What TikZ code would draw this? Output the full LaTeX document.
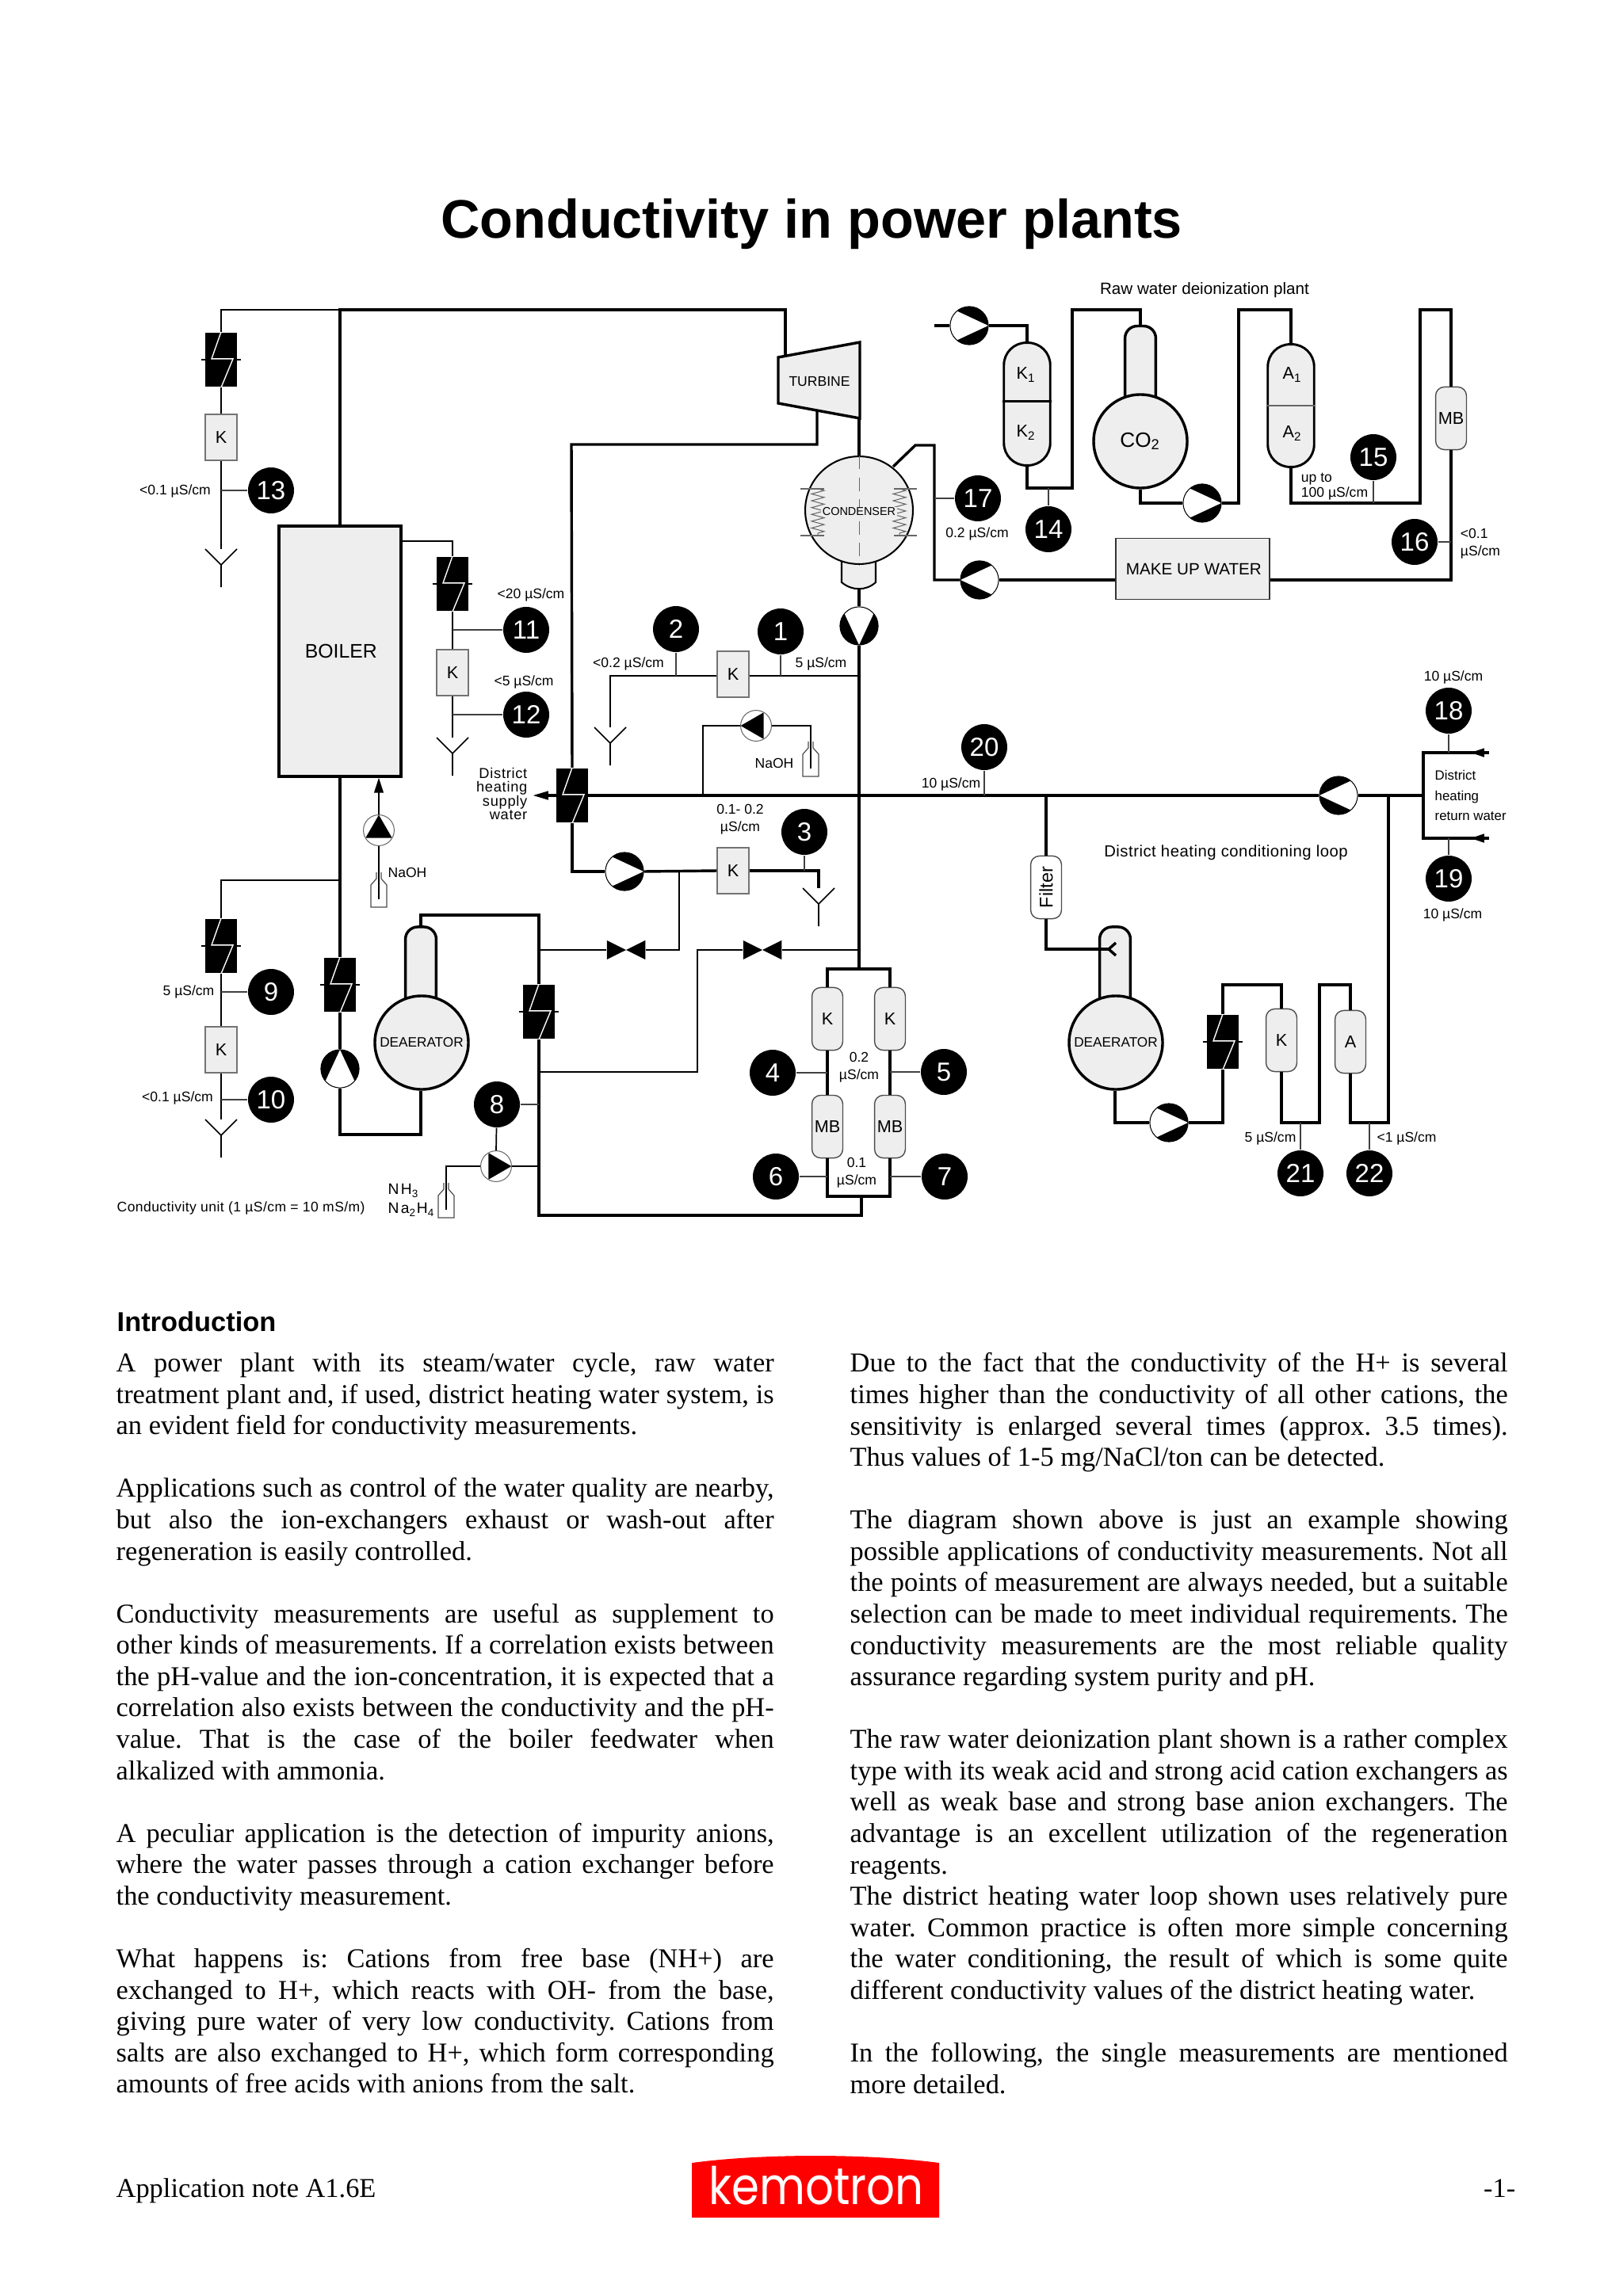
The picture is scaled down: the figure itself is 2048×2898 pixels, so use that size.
\documentclass[tikz,border=0pt]{standalone}
\usepackage{fontspec}
\setmainfont{Liberation Serif}
\setsansfont{Liberation Sans}
\newfontfamily\logofont{Poppins}
\usepackage{graphicx}
\usepackage{xcolor}
\usepackage{tikz}
\usetikzlibrary{arrows.meta,decorations.pathmorphing}
\definecolor{tankgray}{HTML}{EEEEEE}
\definecolor{logored}{HTML}{FF0000}
\newcommand{\hxunit}[2]{%
  \node[hx] (#1) at (#2) {};
  \draw[subpipe] ([xshift=-1.4pt]#1.west) -- ([xshift=1.4pt]#1.east);
  \draw[hxbolt] (#1.north) -- ++(-12,34) -- ++(27,0) -- (#1.south);}
\newcommand{\drainfork}[2]{%
  \coordinate (#1) at (#2);
  \draw[subpipe] ([shift={(-20,0)}]#1) -- ([shift={(0,20)}]#1) -- ([shift={(20,0)}]#1)
    ([shift={(0,20)}]#1) -- ([shift={(0,48)}]#1);}
\newcommand{\dosebottle}[2]{%
  \coordinate (#1) at (#2);
  \draw[bottle] ([shift={(-3,-34)}]#1) -- ([shift={(-3,-26)}]#1) -- ([shift={(-10,-18)}]#1)
    -- ([shift={(-10,10)}]#1) -- ([shift={(10,10)}]#1) -- ([shift={(10,-18)}]#1)
    -- ([shift={(3,-26)}]#1) -- ([shift={(3,-34)}]#1);}
\begin{document}
\begin{tikzpicture}[
    x=0.2906pt, y=-0.2906pt,
    mainpipe/.style={line width=1pt, draw=black},
    subpipe/.style={line width=.5pt, draw=black},
    probe/.style={line width=.4pt, draw=black!75},
    hxbolt/.style={line width=.4pt, draw=white},
    bottle/.style={line width=.35pt, draw=black!70},
    coil/.style={decorate, decoration={zigzag, segment length=2.5pt, amplitude=2.3pt},
      line width=.3pt, draw=black!60},
    hair/.style={line width=.3pt, draw=black!60},
    badge/.style={circle, fill=black, text=white, inner sep=0, minimum size=16.85pt,
      font=\sffamily\fontsize{9.6}{10}\selectfont},
    lbl/.style={inner sep=0, align=center, yshift=-.4pt, font=\sffamily\fontsize{5.1}{6.3}\selectfont},
    wide/.style={inner sep=0, font=\sffamily\fontsize{5.4}{5.1}\selectfont\addfontfeature{LetterSpace=5}},
    unitlbl/.style={inner sep=0, align=center, font=\sffamily\fontsize{6.3}{7}\selectfont},
    bigunit/.style={unitlbl, draw=black, fill=tankgray, line width=1pt},
    kbox/.style={unitlbl, draw=black!55, fill=tankgray, line width=.45pt,
      minimum width=11.6pt, minimum height=16.85pt},
    resin/.style={unitlbl, draw=black!70, fill=tankgray, line width=.4pt,
      minimum width=11.3pt, minimum height=23pt, rounded corners=3.2pt},
    column/.style={unitlbl, draw=black, fill=tankgray, line width=.85pt,
      minimum width=17pt, minimum height=45pt, rounded corners=8.2pt},
    stack/.style={draw=black, fill=tankgray, line width=1pt,
      minimum width=11.3pt, minimum height=32pt, rounded corners=4.5pt},
    drum/.style={circle, bigunit, minimum size=34.3pt},
    hx/.style={fill=black, inner sep=0, minimum width=11.5pt, minimum height=20pt},
    valve/.style={inner sep=0, minimum width=14.1pt, minimum height=7pt,
      path picture={\fill[black] (path picture bounding box.north west)
        -- (path picture bounding box.south east) -- (path picture bounding box.north east)
        -- (path picture bounding box.south west) -- cycle;}},
    pumpbig/.style={circle, fill=black, draw=black, line width=.3pt, inner sep=0, minimum size=14pt,
      path picture={\fill[white, shift={(path picture bounding box.center)}]
        (#1:24) -- ++(#1+155:90) -- ++(#1+270:76) -- cycle;}},
    pumpsmall/.style={circle, fill=white, draw=black!60, line width=.3pt, inner sep=0, minimum size=11.3pt,
      path picture={\fill[black, shift={(path picture bounding box.center)}]
        (#1:19.4) -- (#1+120:19.4) -- (#1+240:19.4) -- cycle;}},
    bodytext/.style={inner sep=0, anchor=north west, text width=241.2pt, align=justify,
      font=\fontsize{10}{11.5}\selectfont\frenchspacing}
  ]
    \useasboundingbox (0,0) rectangle (2048,2898);

    \node[font=\sffamily\bfseries\fontsize{19.9}{24}\selectfont, inner sep=0] (title) at (1024,283) {Conductivity in power plants};

    \foreach \num/\pos in {1/{985,797}, 2/{853,794}, 3/{1015,1050}, 4/{975,1354}, 5/{1191,1353},
      6/{979,1485}, 7/{1192,1485}, 8/{627,1394}, 9/{342,1252}, 10/{342,1388}, 11/{664,795},
      12/{664,902}, 13/{342,619}, 14/{1323,668}, 15/{1733,577}, 16/{1785,684}, 17/{1234,629},
      18/{1828,897}, 19/{1828,1109}, 20/{1242,943}, 21/{1641,1481}, 22/{1728,1481}}
      \node[badge] (b\num) at (\pos) {\num};

    \node[bigunit, minimum width=44.8pt, minimum height=91.8pt, font=\sffamily\fontsize{7.2}{8}\selectfont] (boiler) at (429,822) {\hspace*{.8pt}BOILER};
    \draw[bigunit] (982,451) -- (1085,432) -- (1085,528) -- (982,509) -- cycle;
    \node[lbl] (turbine) at (1034,480) {TURBINE};
    \draw[line width=.6pt, draw=black, fill=tankgray] (1062,700) -- (1062,735) .. controls (1075,746) and (1093,746) .. (1105,735) -- (1105,700) -- cycle;
    \node[circle, draw=black, fill=tankgray, line width=.6pt, inner sep=0, minimum size=39.5pt] (condenser) at (1084,644) {};
    \draw[hair, dashed, dash pattern=on 5pt off 3pt] (condenser.north) -- (condenser.south);
    \draw[coil] (1032,617) -- (1032,676);
    \draw[coil] (1135,617) -- (1135,676);
    \draw[hair] (1010,617) -- (1040,617) (1010,676) -- (1040,676) (1128,617) -- (1157,617) (1128,676) -- (1157,676);
    \node[inner sep=.4pt, font=\sffamily\fontsize{4.2}{5}\selectfont, fill=tankgray] (condlbl) at (1084,646) {CONDENSER};

    \node[stack] (deaer1stem) at (531,1225) {};
    \node[drum, font=\sffamily\fontsize{5}{6}\selectfont] (deaer1) at (532,1316) {DEAERATOR};
    \node[stack, minimum height=34pt] (co2stem) at (1439,470) {};
    \node[drum, font=\sffamily\fontsize{7.6}{9}\selectfont] (co2) at (1439,557) {CO\textsubscript{2}};
    \node[stack] (deaer2stem) at (1407,1225) {};
    \node[drum, font=\sffamily\fontsize{5}{6}\selectfont] (deaer2) at (1408,1316) {DEAERATOR};

    \node[kbox] (k13) at (279,552) {K};
    \node[kbox] (k11) at (571,849) {K};
    \node[kbox] (k9) at (279,1325) {K};
    \node[kbox] (k1) at (925,851) {K};
    \node[kbox] (k3) at (925,1099) {K};
    \node[resin, minimum height=23pt] (k4) at (1044,1286) {K};
    \node[resin] (k5) at (1123,1286) {K};
    \node[resin] (mb4) at (1044,1422) {MB};
    \node[resin] (mb5) at (1123,1422) {MB};
    \node[resin] (kloop) at (1617,1313) {K};
    \node[resin] (aloop) at (1704,1315) {A};
    \node[resin, fill=white, rotate=90, minimum width=23pt, minimum height=11.3pt, font=\sffamily\fontsize{6.8}{8}\selectfont] (filter) at (1320,1120) {Filter};
    \node[column] (kraw) at (1296,510) {};
    \node[column] (araw) at (1629,512) {};
    \node[resin] (mbraw) at (1831,528) {MB};
    \node[unitlbl, draw=black!80, fill=tankgray, line width=.5pt, minimum width=56.4pt, minimum height=22.4pt, font=\sffamily\fontsize{6}{7}\selectfont] (makeup) at (1505,718) {\hspace*{.8pt}MAKE UP WATER};

    \draw[mainpipe] ([yshift=1pt]kraw.west) -- ([yshift=1pt]kraw.east);
    \draw[hair] (araw.west) -- (araw.east);
    \node[unitlbl] (kone) at (1295,473) {K\textsubscript{1}};
    \node[unitlbl] (ktwo) at (1295,546) {K\textsubscript{2}};
    \node[unitlbl] (aone) at (1631,473) {A\textsubscript{1}};
    \node[unitlbl] (atwo) at (1631,547) {A\textsubscript{2}};

    \hxunit{c13}{279,454}
    \hxunit{c11}{571,737}
    \hxunit{c9}{279,1194}
    \hxunit{cfeed}{429,1243}
    \hxunit{c8}{680,1277}
    \hxunit{cdh}{722,1004}
    \hxunit{cloop}{1543,1315}

    \node[pumpbig=-90] (feedpump) at (429,1349) {};
    \node[pumpbig=90] (condpump) at (1084,790) {};
    \node[pumpbig=0] (dhpump) at (788,1100) {};
    \node[pumpbig=180] (retpump) at (1689,1004) {};
    \node[pumpbig=0] (loopump) at (1475,1417) {};
    \node[pumpbig=0] (rawpump) at (1223,411) {};
    \node[pumpbig=0] (co2pump) at (1517,635) {};
    \node[pumpbig=180] (mkpump) at (1236,732) {};
    \node[pumpsmall=-90] (naohpump) at (478,1048) {};
    \node[pumpsmall=180] (naohtwo) at (954,916) {};
    \node[pumpsmall=0] (nhpump) at (626,1472) {};
    \node[valve] (valveA) at (790,1199) {};
    \node[valve] (valveB) at (962,1199) {};

    \drainfork{d13}{279,693}
    \drainfork{d11}{571,931}
    \drainfork{d9}{279,1413}
    \drainfork{d1}{770,918}
    \drainfork{d3}{1033,1121}
    \dosebottle{naohA}{478,1135}
    \dosebottle{naohB}{1023,970}
    \dosebottle{nhtank}{563,1527}

    \coordinate (steamtop) at (429,391);
    \coordinate (turbinein) at (991,449);
    \coordinate (turbineout) at (1031,519);
    \coordinate (turbinebend) at (721,561);
    \coordinate (turbineend) at (1084,528);
    \coordinate (tap11) at (507,683);
    \coordinate (tap9) at (429,1111);
    \coordinate (feedlow) at (531,1432);
    \coordinate (dtop) at (680,1155);
    \coordinate (riserA) at (1084,853);
    \coordinate (riserB) at (1084,1199);
    \coordinate (mbtop) at (1084,1223);
    \coordinate (mbbase) at (1087,1510);
    \coordinate (mbout) at (1087,1534);
    \coordinate (tapA) at (680,1199);
    \coordinate (tapB) at (680,1353);
    \coordinate (tapC) at (857,1100);
    \coordinate (tapD) at (857,1199);
    \coordinate (tapE) at (880,1199);
    \coordinate (tapF) at (880,1353);
    \coordinate (tapG) at (887,1004);
    \coordinate (nhtap) at (680,1472);
    \coordinate (condout) at (1127,589);
    \coordinate (condbend) at (1155,562);
    \coordinate (condrise) at (1179,562);
    \coordinate (rawin) at (1179,411);
    \coordinate (rawA) at (1353,616);
    \coordinate (rawB) at (1353,391);
    \coordinate (rawC) at (1439,391);
    \coordinate (rawE) at (1563,391);
    \coordinate (rawF) at (1563,635);
    \coordinate (rawG) at (1629,391);
    \coordinate (rawH) at (1792,635);
    \coordinate (rawJ) at (1792,391);
    \coordinate (rawK) at (1831,391);
    \coordinate (dhbranch) at (1320,1004);
    \coordinate (spray) at (1399,1198);
    \coordinate (loopA) at (1617,1243);
    \coordinate (loopB) at (1665,1417);
    \coordinate (loopC) at (1665,1243);
    \coordinate (loopD) at (1704,1243);
    \coordinate (loopE) at (1752,1417);
    \coordinate (loopF) at (1752,1004);
    \coordinate (retbox) at (1796,1004);
    \coordinate (rettop) at (1879,950);
    \coordinate (retlow) at (1879,1058);
    \coordinate (rettopc) at (1796,950);
    \coordinate (retlowc) at (1796,1058);
    \coordinate (rettopm) at (1855,950);
    \coordinate (retlowm) at (1855,1058);
    \coordinate (supply) at (672,1004);

    \draw[mainpipe] (boiler.north) -- (steamtop) -| (turbinein);
    \draw[mainpipe] (turbineout) |- (turbinebend) -- (cdh.north);
    \draw[subpipe] (steamtop) -| (c13.north);
    \draw[subpipe] (c13.south) -- (k13.north) (k13.south) -- (d13);
    \draw[subpipe] (tap11) -| (c11.north);
    \draw[subpipe] (c11.south) -- (k11.north) (k11.south) -- (d11);
    \draw[mainpipe] (boiler.south) -- (cfeed.north);
    \draw[mainpipe] (cfeed.south) -- (feedpump.north);
    \draw[mainpipe] (feedpump.south) |- (feedlow) -- (deaer1stem.south |- deaer1.south);
    \draw[subpipe] (tap9) -| (c9.north);
    \draw[subpipe] (c9.south) -- (k9.north) (k9.south) -- (d9);
    \draw[mainpipe] (deaer1stem.north) |- (dtop) -- (c8.north);
    \draw[mainpipe] (c8.south) |- (mbout) -- (mbbase);
    \draw[subpipe] (tapA) -- (valveA.west) (valveA.east) -- (tapD) -- (tapC);
    \draw[subpipe] (riserB) -- (valveB.east) (valveB.west) -- (tapE) -- (tapF) -- (tapB);
    \draw[subpipe] (nhtap) -- (nhpump.east) (nhpump.west) -| (nhtank);
    \draw[subpipe] (nhpump.north) -- (b8);
    \draw[subpipe, -{Triangle[length=5.5pt, width=3.4pt]}] (naohpump.north) -- (naohpump.north |- boiler.south);
    \draw[subpipe] (naohpump.south) -- (naohA);

    \draw[mainpipe] (turbineend) -- (condenser.north);
    \draw[mainpipe] (1084,744) -- (condpump.north);
    \draw[mainpipe] (condpump.south) -- (mbtop);
    \draw[mainpipe] (k4.north) |- (mbtop) -| (k5.north);
    \draw[mainpipe] (k4.south) -- (mb4.north) (k5.south) -- (mb5.north);
    \draw[mainpipe] (mb4.south) |- (mbbase) -| (mb5.south);
    \draw[subpipe] (riserA) -- (k1.east |- riserA) (k1.west |- riserA) -| (d1);
    \draw[subpipe] (tapG) |- (naohtwo.west) (naohtwo.east) -| (naohB);

    \draw[mainpipe] (cdh.south) |- (dhpump.west);
    \draw[mainpipe] (dhpump.east) -- (k3.west);
    \draw[mainpipe, line width=1.2pt] (k3.east) -| (d3);
    \draw[mainpipe] (cdh.east) -- (retpump.west);
    \draw[mainpipe] (retpump.east) -- (retbox);
    \draw[mainpipe] (rettop) -- (rettopc) -- (retlowc) -- (retlow);
    \draw[mainpipe, -{Triangle[length=5.2pt, width=3pt]}] (rettop) -- (rettopm);
    \draw[mainpipe, -{Triangle[length=5.2pt, width=3pt]}] (retlow) -- (retlowm);
    \draw[mainpipe, -{Triangle[length=5.8pt, width=3pt]}] (cdh.west) -- (supply);

    \draw[mainpipe] (condout) -- (condbend) -- (condrise) |- (mkpump.west);
    \draw[mainpipe] (mkpump.east) -- (mkpump -| makeup.west);
    \draw[mainpipe] (mbraw.south) |- (mkpump -| makeup.east);
    \draw[mainpipe] (rawin) -- (rawpump.west);
    \draw[mainpipe] (rawpump.east) -| (kraw.north);
    \draw[mainpipe] (kraw.south) |- (rawA) -- (rawB) -- (rawC) -- (co2stem.north);
    \draw[mainpipe] (co2.south) |- (co2pump.west);
    \draw[mainpipe] (co2pump.east) -- (rawF) -- (rawE) -- (rawG) -- (araw.north);
    \draw[mainpipe] (araw.south) |- (rawH) -- (rawJ) -- (rawK) -- (mbraw.north);

    \draw[mainpipe] (dhbranch) -- (filter.east);
    \draw[mainpipe] (filter.west) |- (spray);
    \draw[mainpipe] ([shift={(9,-8)}]spray) -- (spray) -- ([shift={(9,8)}]spray);
    \draw[mainpipe] (deaer2stem.south |- deaer2.south) |- (loopump.west);
    \draw[mainpipe] (loopump.east) -| (cloop.south);
    \draw[mainpipe] (cloop.north) |- (loopA) -- (kloop.north);
    \draw[mainpipe] (kloop.south) |- (loopB) -- (loopC) -- (loopD) -- (aloop.north);
    \draw[mainpipe] (aloop.south) |- (loopE) -- (loopF);

    \draw[probe] (b13) -- (b13 -| k13);
    \draw[probe] (b11) -- (b11 -| k11);
    \draw[probe] (b12) -- (b12 -| k11);
    \draw[probe] (b9) -- (b9 -| k9);
    \draw[probe] (b10) -- (b10 -| k9);
    \draw[probe] (b8) -- (b8 -| nhtap);
    \draw[probe] (b1) -- (b1 |- riserA);
    \draw[probe] (b2) -- (b2 |- riserA);
    \draw[probe] (b3) -- (b3 |- k3);
    \draw[probe] (b4) -- (b4 -| k4);
    \draw[probe] (b5) -- (b5 -| k5);
    \draw[probe] (b6) -- (b6 -| k4);
    \draw[probe] (b7) -- (b7 -| k5);
    \draw[probe] (b14) -- (b14 |- rawA);
    \draw[probe] (b15) -- (b15 |- rawH);
    \draw[probe] (b16) -- (b16 -| mbraw);
    \draw[probe] (b17) -- (b17 -| condrise);
    \draw[probe] (b18) -- (b18 |- rettop);
    \draw[probe] (b19) -- (b19 |- retlow);
    \draw[probe] (b20) -- (b20 |- dhbranch);
    \draw[probe] (b21) -- (b21 |- loopB);
    \draw[probe] (b22) -- (b22 |- loopE);

    \node[lbl] (v13) at (221,619) {<0.1 µS/cm};
    \node[lbl] (v11) at (670,750) {<20 µS/cm};
    \node[lbl] (v12) at (661,860) {<5 µS/cm};
    \node[lbl] (v9) at (238,1251) {5 µS/cm};
    \node[lbl] (v10) at (224,1385) {<0.1 µS/cm};
    \node[lbl] (v2) at (793,837) {<0.2 µS/cm};
    \node[lbl] (v1) at (1036,837) {5 µS/cm};
    \node[lbl] (v3) at (934,1033) {0.1- 0.2\\µS/cm};
    \node[lbl] (v20) at (1200,989) {10 µS/cm};
    \node[lbl] (v4) at (1084,1346) {0.2\\µS/cm};
    \node[lbl] (v6) at (1081,1479) {0.1\\µS/cm};
    \node[lbl] (v17) at (1233,673) {0.2 µS/cm};
    \node[lbl, align=left, font=\sffamily\fontsize{5.1}{5.6}\selectfont] (v15) at (1684,613) {up to\\100 µS/cm};
    \node[lbl, align=left] (v16) at (1868,685) {<0.1\\µS/cm};
    \node[lbl] (v18) at (1834,854) {10 µS/cm};
    \node[lbl] (v19) at (1833,1154) {10 µS/cm};
    \node[lbl] (v21) at (1603,1436) {5 µS/cm};
    \node[lbl] (v22) at (1775,1436) {<1 µS/cm};
    \node[lbl] (naohlblA) at (514,1100) {NaOH};
    \node[lbl] (naohlblB) at (977,962) {NaOH};
    \node[lbl, align=left, font=\sffamily\fontsize{4.9}{7.4}\selectfont, anchor=west] (returnlbl) at (1810,1003) {District\\heating\\return water};
    \node[wide, align=right, anchor=east, font=\sffamily\fontsize{5.3}{5.1}\selectfont\addfontfeature{LetterSpace=4}] (supplylbl) at (666,1002) {District\\heating\\supply\\water};
    \node[wide, anchor=west, font=\sffamily\fontsize{5.6}{6}\selectfont\addfontfeature{LetterSpace=12}] (nhlbl) at (489,1503) {NH\textsubscript{3}};
    \node[wide, anchor=west, font=\sffamily\fontsize{5.6}{6}\selectfont\addfontfeature{LetterSpace=12}] (nalbl) at (489,1527) {Na\textsubscript{2}H\textsubscript{4}};
    \node[wide, anchor=west, font=\sffamily\fontsize{5.1}{6}\selectfont\addfontfeature{LetterSpace=2.4}] (unitnote) at (147,1525) {Conductivity unit (1 µS/cm = 10 mS/m)};
    \node[lbl, font=\sffamily\fontsize{6}{7}\selectfont] (rawlbl) at (1520,365) {Raw water deionization plant};
    \node[lbl, font=\sffamily\fontsize{5.9}{7}\selectfont\addfontfeature{LetterSpace=2.5}] (looplbl) at (1547,1075) {District heating conditioning loop};

    \node[inner sep=0, anchor=base west, font=\sffamily\bfseries\fontsize{10}{12}\selectfont] (intro) at (147,1680) {Introduction};

    \node[bodytext] (leftcol) at (146,1707) {%
      A power plant with its steam/water cycle, raw water\linebreak treatment plant and, if used, district heating water system, is\linebreak an evident field for conductivity measurements.\par\vspace{11.5pt}
      Applications such as control of the water quality are nearby,\linebreak but also the ion-exchangers exhaust or wash-out after\linebreak regeneration is easily controlled.\par\vspace{11.5pt}
      Conductivity measurements are useful as supplement to\linebreak other kinds of measurements. If a correlation exists between\linebreak the pH-value and the ion-concentration, it is expected that a\linebreak correlation also exists between the conductivity and the pH-\linebreak value. That is the case of the boiler feedwater when\linebreak alkalized with ammonia.\par\vspace{11.5pt}
      A peculiar application is the detection of impurity anions,\linebreak where the water passes through a cation exchanger before\linebreak the conductivity measurement.\par\vspace{11.5pt}
      What happens is: Cations from free base (NH+) are\linebreak exchanged to H+, which reacts with OH- from the base,\linebreak giving pure water of very low conductivity. Cations from\linebreak salts are also exchanged to H+, which form corresponding\linebreak amounts of free acids with anions from the salt.};

    \node[bodytext] (rightcol) at (1072,1707) {%
      Due to the fact that the conductivity of the H+ is several\linebreak times higher than the conductivity of all other cations, the\linebreak sensitivity is enlarged several times (approx. 3.5 times).\linebreak Thus values of 1-5 mg/NaCl/ton can be detected.\par\vspace{11.5pt}
      The diagram shown above is just an example showing\linebreak possible applications of conductivity measurements. Not all\linebreak the points of measurement are always needed, but a suitable\linebreak selection can be made to meet individual requirements. The\linebreak conductivity measurements are the most reliable quality\linebreak assurance regarding system purity and pH.\par\vspace{11.5pt}
      The raw water deionization plant shown is a rather complex\linebreak type with its weak acid and strong acid cation exchangers as\linebreak well as weak base and strong base anion exchangers. The\linebreak advantage is an excellent utilization of the regeneration\linebreak reagents.\par
      The district heating water loop shown uses relatively pure\linebreak water. Common practice is often more simple concerning\linebreak the water conditioning, the result of which is some quite\linebreak different conductivity values of the district heating water.\par\vspace{11.5pt}
      In the following, the single measurements are mentioned\linebreak more detailed.};

    \node[inner sep=0, anchor=base west, font=\fontsize{10}{12}\selectfont] (appnote) at (146,2773) {Application note A1.6E};
    \node[inner sep=0, anchor=base east, font=\fontsize{10}{12}\selectfont] (pagenum) at (1913,2773) {-1-};
    \draw[fill=logored, draw=none] (873,2730) .. controls (960,2718) and (1097,2718) .. (1185,2730) -- (1185,2799) -- (873,2799) -- cycle;
    \node[inner sep=0, anchor=base, text=white, font=\logofont\fontsize{19}{20}\selectfont] (logo) at (1030,2782) {\scalebox{.86}[1]{kemotron}};
  \end{tikzpicture}
\end{document}
